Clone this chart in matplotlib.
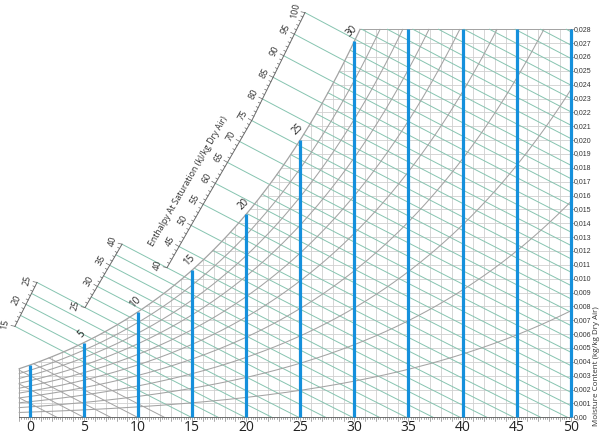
import numpy as np
import matplotlib
matplotlib.use("Agg")
import matplotlib.pyplot as plt

# ---------------- data ----------------
dry_bulb_temps = [0, 5, 10, 15, 20, 25, 30, 35, 40, 45, 50]
dry_bulb_top_labels = {5: "5", 10: "10", 15: "15", 20: "20", 25: "25", 30: "30"}
rh_percent = [10, 20, 30, 40, 50, 60, 70, 80, 90]
moisture_ticks = [i / 1000 for i in range(0, 29)]
moisture_labels = ["0,00"] + ["0,%03d" % i for i in range(1, 29)]
enthalpy_step = 2.5
enthalpy_max = 122.5
# enthalpy scale segments: (first, last, line spacing, labels)
enthalpy_segments = [
    (15, 25, 2.5, [15, 20, 25]),
    (25, 40, 2.5, [25, 30, 35, 40]),
    (40, 100, 5.0, [40, 45, 50, 55, 60, 65, 70, 75, 80, 85, 90, 95, 100]),
]
enthalpy_title = "Enthalpy At Saturation (kJ/kg Dry Air)"
moisture_title = "Moisture Content (kg/kg Dry Air)"

# ---------------- layout / styling ----------------
SX, SY = 10.814, 13857.0          # px per degC, px per kg/kg
X0PX, Y0PX = 30.0, 417.3          # pixel of (0 degC, 0 kg/kg)
T_MIN, T_MAX, W_MAX = -1.0, 50.0, 0.028
BLUE = "#1590dc"
GREEN = "#86c4b0"
GREY = "#a3a3a3"
GRID = "#d0d0d0"
DARK = "#6a6a6a"
NARROW = ["Liberation Sans", "DejaVu Sans"]
SANS = ["Open Sans", "DejaVu Sans"]
# geometry of the (offset) enthalpy scales: dry-bulb position vs enthalpy
scale_geom = [
    ([15, 25], [-1.39, 0.65]),
    ([25, 40], [5.09, 8.51]),
    ([40, 53.7, 75.1, 100], [12.67, 15.72, 20.53, 25.43]),
]

P = 101.325


def pws(T):
    return 0.61094 * np.exp(17.625 * T / (T + 243.04))


def w_rh(T, phi):
    pw = phi * pws(T)
    return 0.622 * pw / (P - pw)


def w_h(h, T):
    return (h - 1.006 * T) / (2501 + 1.86 * T)


def h_of(T, W):
    return 1.006 * T + W * (2501 + 1.86 * T)


fig = plt.figure(figsize=(6.0, 4.36), dpi=100)
ax = fig.add_axes([0, 0, 1, 1])
ax.set_xlim(-X0PX / SX, (600 - X0PX) / SX)
ax.set_ylim(-(436 - Y0PX) / SY, Y0PX / SY)
ax.axis("off")

Tg = np.linspace(T_MIN, T_MAX, 4001)
Wsat = w_rh(Tg, 1.0)
T_top = float(np.interp(W_MAX, Wsat, Tg))
hsat = h_of(Tg, Wsat)


def wsat_clip(T):
    return min(float(w_rh(T, 1.0)), W_MAX)


# ---- grid ----
for T in range(0, 51):
    ax.plot([T, T], [0, wsat_clip(T)], color=GRID, lw=0.6, zorder=1)
for w in moisture_ticks[1:]:
    tl = T_MIN if w <= Wsat[0] else float(np.interp(w, Wsat, Tg))
    ax.plot([tl, T_MAX], [w, w], color=GRID, lw=0.6, zorder=1)
ax.plot([T_MIN, T_MIN], [0, Wsat[0]], color=GREY, lw=0.7, zorder=2)
ax.plot([T_top, T_MAX], [W_MAX, W_MAX], color=GREY, lw=0.7, zorder=2)

# ---- RH curves ----
for rh in rh_percent:
    W = w_rh(Tg, rh / 100)
    m = W <= W_MAX
    ax.plot(Tg[m], W[m], color=GREY, lw=0.75, zorder=3)
ms = Tg <= T_top
ax.plot(Tg[ms], Wsat[ms], color=GREY, lw=0.9, zorder=3)


# ---- enthalpy scales ----
def scale_T(seg, h):
    hh, tt = scale_geom[seg]
    return float(np.interp(h, hh, tt))


def scale_pt(seg, h):
    T = scale_T(seg, h)
    return T, w_h(h, T)


def scale_frame(seg, h):
    a = scale_pt(seg, h - 0.1)
    b = scale_pt(seg, h + 0.1)
    tx = (b[0] - a[0]) * SX
    ty = (b[1] - a[1]) * SY
    n = np.hypot(tx, ty)
    tx, ty = tx / n, ty / n
    return (tx, ty), (-ty, tx)


scale_start = {}
for si, (h0, h1, step, labels) in enumerate(enthalpy_segments):
    for h in np.arange(h0, h1 + 1e-9, step):
        key = round(h, 2)
        if key not in scale_start:
            scale_start[key] = scale_T(si, h)
    hs = np.linspace(h0, h1, 200)
    pts = np.array([scale_pt(si, h) for h in hs])
    ax.plot(pts[:, 0], pts[:, 1], color=DARK, lw=0.7, zorder=4)
    for h in np.arange(h0, h1 + 1e-9, 1.0):
        T, W = scale_pt(si, h)
        (tx, ty), (nx, ny) = scale_frame(si, h)
        L = 4.0 if abs(h % 5) < 1e-9 else 2.2
        ax.plot([T, T + nx * L / SX], [W, W + ny * L / SY], color=DARK, lw=0.5, zorder=4)
    for h in labels:
        T, W = scale_pt(si, h)
        (tx, ty), (nx, ny) = scale_frame(si, h)
        ang = np.degrees(np.arctan2(ty, tx))
        d = 10.0
        ax.text(T + nx * d / SX, W + ny * d / SY, str(h), rotation=ang,
                rotation_mode="anchor", ha="center", va="center",
                fontsize=6.5, family=SANS, color="#333333", zorder=6)

# title along the third scale
hT = 57.5
T, W = scale_pt(2, hT)
(tx, ty), (nx, ny) = scale_frame(2, hT)
ang = np.degrees(np.arctan2(ty, tx))
ax.text(T + nx * 24 / SX, W + ny * 24 / SY, enthalpy_title, rotation=ang,
        rotation_mode="anchor", ha="center", va="center", fontsize=6.3,
        family=SANS, color="#333333", zorder=6)

# ---- enthalpy lines ----
for h in np.arange(enthalpy_step, enthalpy_max + 1e-9, enthalpy_step):
    key = round(h, 2)
    if key in scale_start:
        ts = scale_start[key]
    elif h < hsat[0]:
        ts = T_MIN
    else:
        ts = float(np.interp(h, hsat, Tg))
        if ts > T_top:
            ts = (h - 2501 * W_MAX) / (1.006 + 1.86 * W_MAX)
    te = min(T_MAX, h / 1.006)
    if te <= ts:
        continue
    Ts = np.linspace(ts, te, 100)
    col = GREY if h < 15 else GREEN
    ax.plot(Ts, w_h(h, Ts), color=col, lw=0.7, zorder=2.5)

# ---- dry bulb (blue) lines ----
for T in dry_bulb_temps:
    top = wsat_clip(T)
    ax.plot([T, T], [0, top], color=BLUE, lw=2.3, zorder=5, solid_capstyle="butt")
    if T in dry_bulb_top_labels:
        ax.annotate(dry_bulb_top_labels[T], (T, top), xytext=(-2, 1.5),
                    textcoords="offset points", rotation=45, ha="center",
                    va="bottom", fontsize=7, family=SANS, color="#222222", zorder=6)

# ---- bottom axis ----
ax.plot([T_MIN, T_MAX], [0, 0], color=DARK, lw=0.7, zorder=4)
for k in range(int(T_MIN * 5), int(T_MAX * 5) + 1):
    T = k / 5
    L = 3.5 if k % 5 == 0 else 2.0
    ax.plot([T, T], [0, -L / SY], color=DARK, lw=0.4, zorder=4)
for T in dry_bulb_temps:
    ax.text(T, -10.5 / SY, str(T), ha="center", va="center", fontsize=10,
            family=SANS, color="#222222")

# ---- right axis ----
ax.plot([T_MAX, T_MAX], [0, W_MAX], color=DARK, lw=0.6, zorder=4)
for k in range(0, 141):
    w = k / 5000
    L = 3.0 if k % 5 == 0 else 1.6
    ax.plot([T_MAX, T_MAX + L / SX], [w, w], color=DARK, lw=0.4, zorder=4)
for w, lab in zip(moisture_ticks, moisture_labels):
    ax.text(T_MAX + 2.8 / SX, w, lab, ha="left", va="center", fontsize=5.0,
            family=NARROW, color="#333333")
ax.text(T_MAX + 25.5 / SX, (417.3 - 366) / SY, moisture_title, rotation=90,
        ha="center", va="center", fontsize=5.8, family=SANS, color="#333333")

fig.savefig("out.png", dpi=100)
